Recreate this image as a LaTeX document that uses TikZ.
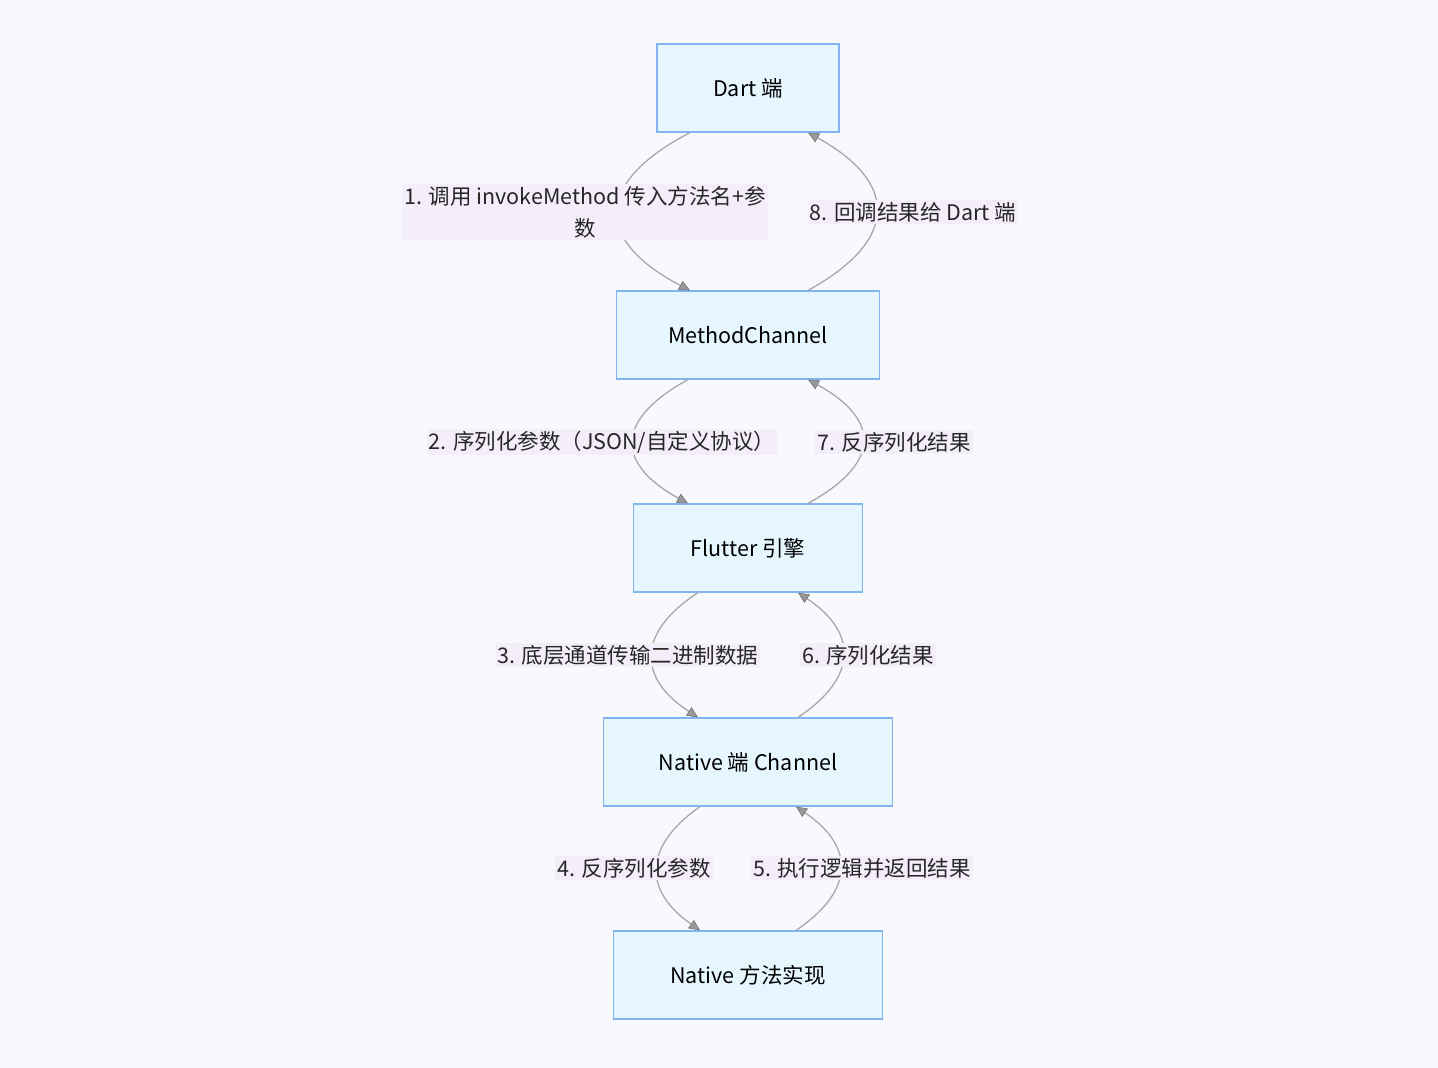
\documentclass[tikz,border=0pt]{standalone}
\usepackage{fontspec}
\setmainfont{Noto Sans CJK SC}
\usetikzlibrary{arrows.meta}
\definecolor{bg}{HTML}{F8F9FC}
\definecolor{boxfill}{HTML}{E6F6FF}
\definecolor{boxline}{HTML}{82B4F2}
\definecolor{lblfill}{HTML}{F4EEFB}
\definecolor{edge}{HTML}{A8A8A8}
\tikzset{
  box/.style={draw=boxline,line width=1.2pt,fill=boxfill,minimum height=88pt,inner sep=0pt,font=\fontsize{21.5}{26}\selectfont},
  lbl/.style={fill=lblfill,inner sep=2pt,font=\fontsize{21.5}{32}\selectfont,text=black!85},
  conn/.style={draw=edge,line width=1.3pt,-{Triangle[length=11pt,width=10pt,fill=black!40,color=black!55,line width=0.6pt]}}
}
\begin{document}
\begin{tikzpicture}[x=1pt,y=-1pt]
\fill[bg] (0,0) rectangle (1438,1068);
\useasboundingbox (0,0) rectangle (1438,1068);
\node[box,minimum width=182pt] (dart) at (748,88) {Dart 端};
\node[box,minimum width=263pt] (mc) at (748,335) {MethodChannel};
\node[box,minimum width=229pt] (fl) at (748,548) {Flutter 引擎};
\node[box,minimum width=289pt] (nc) at (748,762) {Native 端 Channel};
\node[box,minimum width=269pt] (ni) at (748,975) {Native 方法实现};
% endpoints
\coordinate (a1) at ([xshift=-58pt]dart.south); \coordinate (b1) at ([xshift=-58pt]mc.north);
\coordinate (a8) at ([xshift=60pt]mc.north); \coordinate (b8) at ([xshift=60pt]dart.south);
\coordinate (a2) at ([xshift=-60pt]mc.south); \coordinate (b2) at ([xshift=-60pt]fl.north);
\coordinate (a7) at ([xshift=60pt]fl.north); \coordinate (b7) at ([xshift=60pt]mc.south);
\coordinate (a3) at ([xshift=-50pt]fl.south); \coordinate (b3) at ([xshift=-50pt]nc.north);
\coordinate (a6) at ([xshift=50pt]nc.north); \coordinate (b6) at ([xshift=50pt]fl.south);
\coordinate (a4) at ([xshift=-48pt]nc.south); \coordinate (b4) at ([xshift=-48pt]ni.north);
\coordinate (a5) at ([xshift=48pt]ni.north); \coordinate (b5) at ([xshift=48pt]nc.south);
\draw[conn] (a1) .. controls +(-96,50) and +(-96,-50) .. (b1);
\draw[conn] (a8) .. controls +(91,-50) and +(91,50) .. (b8);
\draw[conn] (a2) .. controls +(-73,40) and +(-73,-40) .. (b2);
\draw[conn] (a7) .. controls +(73,-40) and +(73,40) .. (b7);
\draw[conn] (a3) .. controls +(-61,40) and +(-61,-40) .. (b3);
\draw[conn] (a6) .. controls +(60,-40) and +(60,40) .. (b6);
\draw[conn] (a4) .. controls +(-57,40) and +(-57,-40) .. (b4);
\draw[conn] (a5) .. controls +(59,-40) and +(59,40) .. (b5);
\node[lbl,minimum width=364pt,align=center] (l1) at (585,212) {1. 调用 invokeMethod 传入方法名+参\\数};
\node[lbl] (l8) at (913,212) {8. 回调结果给 Dart 端};
\node[lbl] (l2) at (602,442) {2. 序列化参数（JSON/自定义协议）};
\node[lbl] (l7) at (894,442) {7. 反序列化结果};
\node[lbl] (l3) at (628,655) {3. 底层通道传输二进制数据};
\node[lbl] (l6) at (868,655) {6. 序列化结果};
\node[lbl] (l4) at (634,868) {4. 反序列化参数};
\node[lbl] (l5) at (862,868) {5. 执行逻辑并返回结果};
\end{tikzpicture}
\end{document}
